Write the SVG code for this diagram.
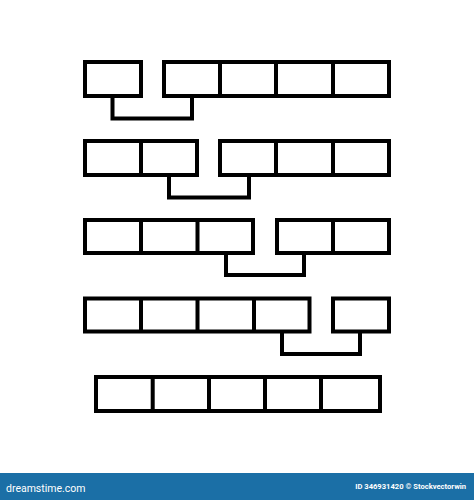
<svg xmlns="http://www.w3.org/2000/svg" width="474" height="500" viewBox="0 0 474 500">
<style>
.box{fill:#fff;stroke:#000;stroke-width:4}
.div{stroke:#000;stroke-width:4;fill:none}
.con{fill:none;stroke:#000;stroke-width:4}
.ft{font-family:"Roboto","Liberation Sans",sans-serif;fill:#fff}
</style>
<rect width="474" height="500" fill="#fff"/>
<g id="connectors">
<path class="con" d="M112.5 96 V118.5 H192 V96"/>
<path class="con" d="M169 175 V197.5 H249 V175"/>
<path class="con" d="M226 253 V275 H304 V253"/>
<path class="con" d="M282 331.5 V354 H360 V331.5"/>
</g>
<g id="row1-a"><rect class="box" x="85" y="62" width="56" height="34"/></g>
<g id="row1-b"><rect class="box" x="164" y="62" width="225" height="34"/><path class="div" d="M220 62V96M276 62V96M333 62V96"/></g>
<g id="row2-a"><rect class="box" x="85" y="141" width="112" height="34"/><path class="div" d="M141 141V175"/></g>
<g id="row2-b"><rect class="box" x="220" y="141" width="169" height="34"/><path class="div" d="M276 141V175M333 141V175"/></g>
<g id="row3-a"><rect class="box" x="85" y="220" width="168" height="33"/><path class="div" d="M141 220V253M197.5 220V253"/></g>
<g id="row3-b"><rect class="box" x="277" y="220" width="112" height="33"/><path class="div" d="M333 220V253"/></g>
<g id="row4-a"><rect class="box" x="85" y="298.5" width="224.5" height="33"/><path class="div" d="M141 298.5V331.5M197.5 298.5V331.5M254 298.5V331.5"/></g>
<g id="row4-b"><rect class="box" x="333" y="298.5" width="56" height="33"/></g>
<g id="row5"><rect class="box" x="96" y="377" width="284" height="34"/><path class="div" d="M152.7 377V411M209 377V411M265 377V411M321 377V411"/></g>
<g id="footer">
<rect x="0" y="473" width="474" height="27" fill="#1b6fa6"/>
<text class="ft" x="6" y="492" font-size="10.5">dreamstime.com</text>
<text class="ft" x="466" y="489" font-size="7.6" font-weight="bold" text-anchor="end">ID 346931420 © Stockvectorwin</text>
</g>
</svg>
